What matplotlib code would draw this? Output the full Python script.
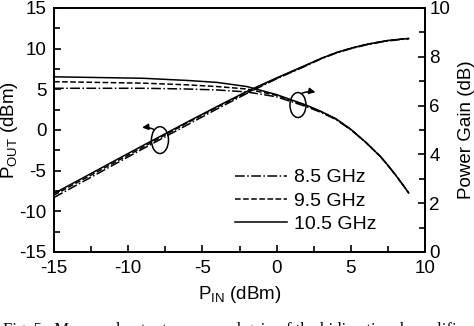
import matplotlib
matplotlib.use("Agg")
import matplotlib.pyplot as plt
from matplotlib.patches import Ellipse
from matplotlib.ticker import MultipleLocator

plt.rcParams['font.family'] = ['Liberation Sans', 'DejaVu Sans']
plt.rcParams['mathtext.fontset'] = 'custom'
plt.rcParams['mathtext.rm'] = 'Liberation Sans'
plt.rcParams['axes.unicode_minus'] = False

# Input power (dBm)
pin = [-15, -12, -9, -6, -4, -2, 0, 2, 3, 4, 5, 6, 7, 7.5, 8, 8.5, 8.9]

# Output power (dBm), left axis
pout_85 = [-8.3, -5.3, -2.3, 0.65, 2.6, 4.5, 6.3, 7.9, 8.75, 9.45, 10.0, 10.45, 10.8, 10.95, 11.05, 11.15, 11.2]
pout_95 = [-8.0, -5.05, -2.1, 0.9, 2.8, 4.65, 6.35, 7.95, 8.8, 9.5, 10.05, 10.5, 10.85, 11.0, 11.1, 11.2, 11.25]
pout_105 = [-7.8, -4.85, -1.9, 1.0, 2.9, 4.75, 6.4, 8.0, 8.8, 9.5, 10.05, 10.5, 10.85, 11.0, 11.1, 11.2, 11.25]

# Power gain (dB), right axis
gain_85 = [6.71, 6.71, 6.71, 6.68, 6.64, 6.56, 6.36, 5.96, 5.72, 5.43, 5.01, 4.5, 3.91, 3.55, 3.17, 2.76, 2.42]
gain_95 = [6.98, 6.95, 6.92, 6.85, 6.78, 6.68, 6.42, 6.0, 5.75, 5.45, 5.02, 4.5, 3.91, 3.55, 3.17, 2.76, 2.42]
gain_105 = [7.18, 7.15, 7.12, 7.03, 6.95, 6.78, 6.45, 6.02, 5.76, 5.46, 5.03, 4.5, 3.91, 3.55, 3.17, 2.76, 2.42]

labels = ['8.5 GHz', '9.5 GHz', '10.5 GHz']
styles = ['-.', '--', '-']

fig = plt.figure(figsize=(4.74, 3.26), dpi=100)
ax = fig.add_axes([54/474, 1-252/326, (425-54)/474, (252-8)/326])
ax2 = ax.twinx()

lw = 1.1
handles = []
for pout, gain, lab, ls in zip([pout_85, pout_95, pout_105],
                               [gain_85, gain_95, gain_105], labels, styles):
    h, = ax.plot(pin, pout, color='black', ls=ls, lw=lw, label=lab)
    ax2.plot(pin, gain, color='black', ls=ls, lw=lw)
    handles.append(h)

ax.set_xlim(-15, 10)
ax.set_ylim(-15, 15)
ax2.set_ylim(0, 10)

ax.xaxis.set_major_locator(MultipleLocator(5))
ax.xaxis.set_minor_locator(MultipleLocator(2.5))
ax.yaxis.set_major_locator(MultipleLocator(5))
ax.yaxis.set_minor_locator(MultipleLocator(2.5))
ax2.yaxis.set_major_locator(MultipleLocator(2))
ax2.yaxis.set_minor_locator(MultipleLocator(1))

fs = 13.5
ax.tick_params(axis='both', which='both', direction='in', labelsize=fs, top=False, width=1.2)
ax.tick_params(axis='both', which='major', length=5, pad=5.5)
ax.tick_params(which='minor', length=4)
ax2.tick_params(axis='y', which='both', direction='in', labelsize=fs, width=1.2)
ax2.tick_params(which='major', length=5, pad=3)
ax2.tick_params(which='minor', length=4)
for a in (ax, ax2):
    for s in a.spines.values():
        s.set_linewidth(1.3)

ax.set_xlabel(r'P$_{\mathregular{IN}}$ (dBm)', fontsize=fs, labelpad=5)
ax.set_ylabel(r'P$_{\mathregular{OUT}}$ (dBm)', fontsize=fs, labelpad=-1)
ax2.set_ylabel('Power Gain (dB)', fontsize=fs, labelpad=6)

leg = ax.legend(handles=handles, loc='lower right', bbox_to_anchor=(0.89, 0.045),
                frameon=False, fontsize=14, handlelength=2.7, handletextpad=0.35,
                labelspacing=0.3, borderaxespad=0)

# Annotations: ellipses with arrows
ax.add_patch(Ellipse((-7.86, -1.24), 1.15, 3.3, fill=False, lw=1.1, color='black'))
ax.annotate('', xy=(-9.25, 0.25), xytext=(-8.1, -0.1),
            arrowprops=dict(arrowstyle='-|>', color='black', lw=1.1,
                            mutation_scale=9, connectionstyle='arc3,rad=0.2'))
ax.add_patch(Ellipse((1.44, 3.07), 1.08, 3.07, fill=False, lw=1.1, color='black'))
ax.annotate('', xy=(2.8, 4.55), xytext=(1.55, 4.4),
            arrowprops=dict(arrowstyle='-|>', color='black', lw=1.1,
                            mutation_scale=9, connectionstyle='arc3,rad=-0.2'))

fig.text(3/474, 1-322/326, 'Fig. 5   Measured output power and gain of the bidirectional amplifier',
         fontsize=12, family=['Liberation Serif', 'DejaVu Serif'], va='top', ha='left')

fig.savefig('out.png', dpi=100)
